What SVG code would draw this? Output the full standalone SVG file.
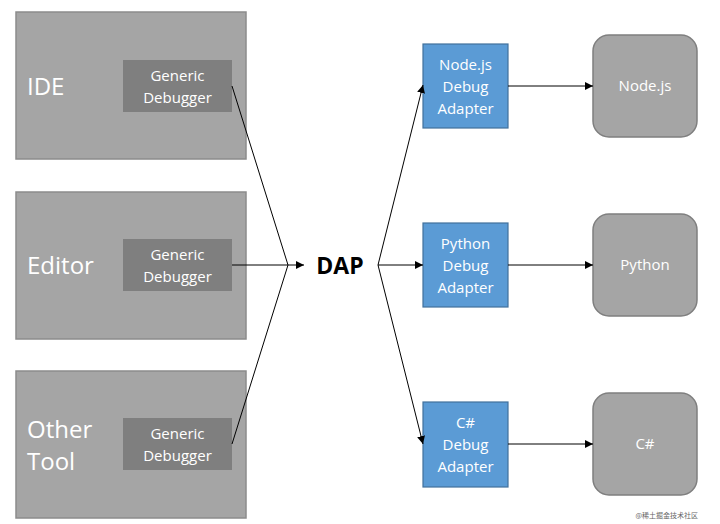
<svg xmlns="http://www.w3.org/2000/svg" width="720" height="524" viewBox="0 0 720 524">
<style>
.host{fill:#a5a5a5;stroke:#8c8c8c;stroke-width:1.5}
.dbg{fill:#7f7f7f}
.ad{fill:#5b9bd5;stroke:#41719c;stroke-width:1.2}
.rt{fill:#a5a5a5;stroke:#7f7f7f;stroke-width:1.5}
text{font-family:"Open Sans","Noto Sans",sans-serif;fill:#fff;text-anchor:middle}
.big{font-size:24px;text-anchor:start}
.sm{font-size:15px}
.c{fill:none;stroke:#000;stroke-width:1}
</style>
<defs><marker id="a" viewBox="0 0 10 10" refX="10" refY="5" markerWidth="8" markerHeight="8" orient="auto" markerUnits="userSpaceOnUse"><path d="M0,0L10,5L0,10z" fill="#000"/></marker></defs>
<rect width="720" height="524" fill="#fff"/>
<g id="ide"><rect class="host" x="16" y="12" width="230" height="147"/><text class="big" x="27" y="95">IDE</text>
<rect class="dbg" x="123" y="60" width="109" height="52"/><text class="sm" x="177.5" y="81">Generic</text><text class="sm" x="177.5" y="103">Debugger</text></g>
<g id="editor"><rect class="host" x="16" y="192" width="230" height="147"/><text class="big" x="27" y="274">Editor</text>
<rect class="dbg" x="123" y="239" width="109" height="52"/><text class="sm" x="177.5" y="260">Generic</text><text class="sm" x="177.5" y="282">Debugger</text></g>
<g id="other"><rect class="host" x="16" y="371" width="230" height="147"/><text class="big" x="27" y="438">Other</text><text class="big" x="27" y="470">Tool</text>
<rect class="dbg" x="123" y="418" width="109" height="52"/><text class="sm" x="177.5" y="439">Generic</text><text class="sm" x="177.5" y="461">Debugger</text></g>
<g id="dap"><text x="340" y="274" style="font-size:23px;font-weight:bold;fill:#000">DAP</text></g>
<g id="node-ad"><rect class="ad" x="423" y="44" width="85" height="84"/><text class="sm" x="465.5" y="70">Node.js</text><text class="sm" x="465.5" y="92">Debug</text><text class="sm" x="465.5" y="114">Adapter</text></g>
<g id="py-ad"><rect class="ad" x="423" y="223" width="85" height="84"/><text class="sm" x="465.5" y="249">Python</text><text class="sm" x="465.5" y="271">Debug</text><text class="sm" x="465.5" y="293">Adapter</text></g>
<g id="cs-ad"><rect class="ad" x="423" y="402" width="85" height="85"/><text class="sm" x="465.5" y="428">C#</text><text class="sm" x="465.5" y="450">Debug</text><text class="sm" x="465.5" y="472">Adapter</text></g>
<g id="node"><rect class="rt" x="593" y="35" width="104" height="102" rx="16"/><text class="sm" x="645" y="91">Node.js</text></g>
<g id="python"><rect class="rt" x="593" y="214" width="104" height="102" rx="16"/><text class="sm" x="645" y="270">Python</text></g>
<g id="cs"><rect class="rt" x="593" y="393" width="104" height="102" rx="16"/><text class="sm" x="645" y="449">C#</text></g>
<g id="connectors">
<path class="c" d="M232,86L288,265"/>
<path class="c" d="M232,444L288,265"/>
<path class="c" d="M232,265L304,265" marker-end="url(#a)"/>
<path class="c" d="M378,265L423,85" marker-end="url(#a)"/>
<path class="c" d="M378,265L423,265" marker-end="url(#a)"/>
<path class="c" d="M378,265L423,444" marker-end="url(#a)"/>
<path class="c" d="M508,86L593,86" marker-end="url(#a)"/>
<path class="c" d="M508,265L593,265" marker-end="url(#a)"/>
<path class="c" d="M508,444L593,444" marker-end="url(#a)"/>
</g>
<text x="698" y="518" style="font-size:7px;fill:#666;text-anchor:end;font-family:'Noto Sans CJK SC',sans-serif">@稀土掘金技术社区</text>
</svg>
